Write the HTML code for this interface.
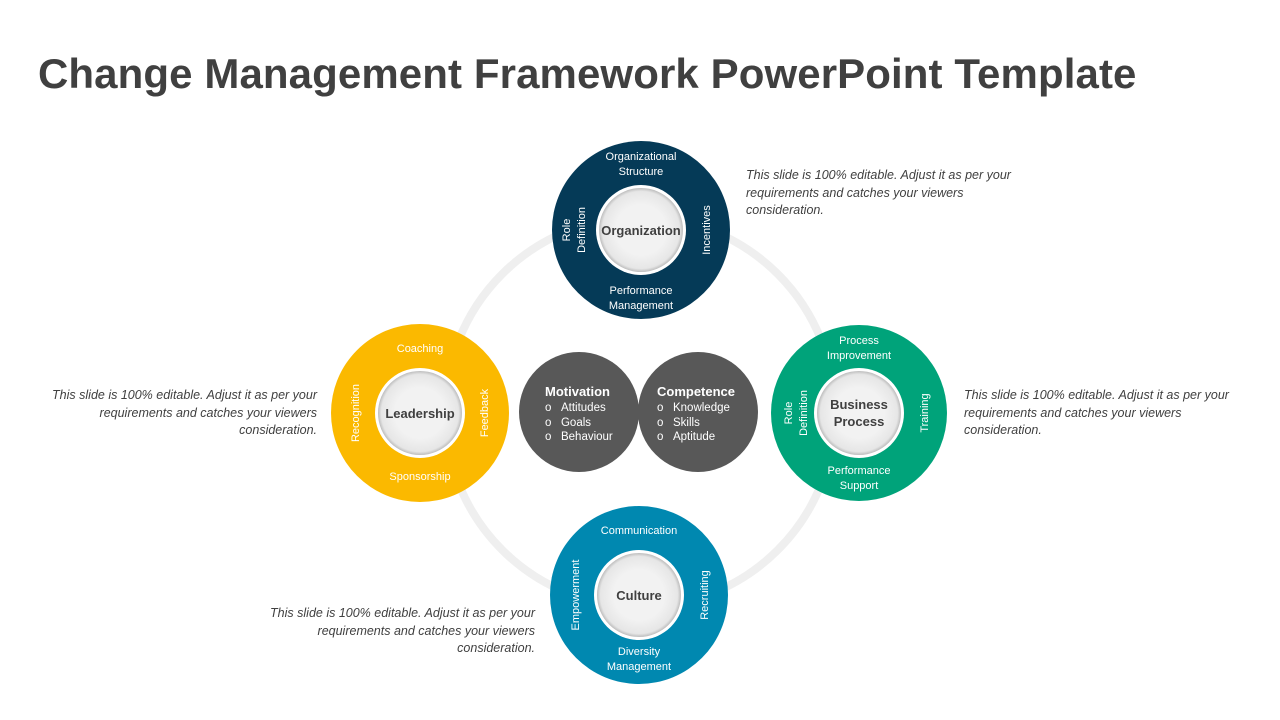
<!DOCTYPE html>
<html><head><meta charset="utf-8"><style>
body{margin:0;width:1280px;height:720px;background:#fff;overflow:hidden;font-family:"Liberation Sans",sans-serif}
h1{position:absolute;left:38px;top:50px;margin:0;font-size:42px;font-weight:bold;color:#404040;letter-spacing:0.1px}
.d{position:absolute;font-size:12.5px;font-style:italic;color:#404040;line-height:17.5px}
</style></head><body>
<h1>Change Management Framework PowerPoint Template</h1>
<div class="d" style="left:746px;top:167px;width:290px">This slide is 100% editable. Adjust it as per your requirements and catches your viewers consideration.</div>
<div class="d" style="left:20px;top:387px;width:297px;text-align:right">This slide is 100% editable. Adjust it as per your requirements and catches your viewers consideration.</div>
<div class="d" style="left:964px;top:387px;width:290px">This slide is 100% editable. Adjust it as per your requirements and catches your viewers consideration.</div>
<div class="d" style="left:238px;top:605px;width:297px;text-align:right">This slide is 100% editable. Adjust it as per your requirements and catches your viewers consideration.</div>
<svg width="1280" height="720" style="position:absolute;left:0;top:0" font-family="Liberation Sans, sans-serif">
<defs>
<radialGradient id="g"><stop offset="0.6" stop-color="#f2f2f2"/><stop offset="0.92" stop-color="#e6e6e6"/><stop offset="1" stop-color="#bdbdbd"/></radialGradient>
</defs>
<circle cx="640" cy="412" r="195" fill="none" stroke="#efefef" stroke-width="8"/>
<circle cx="579" cy="412" r="60" fill="#585858"/>
<circle cx="698" cy="412" r="60" fill="#585858"/>
<g fill="#fff" font-size="11.5">
<text x="545" y="396" font-size="13" font-weight="bold">Motivation</text>
<text x="545" y="411">o&#160;&#160;&#160;Attitudes</text>
<text x="545" y="426">o&#160;&#160;&#160;Goals</text>
<text x="545" y="440">o&#160;&#160;&#160;Behaviour</text>
<text x="657" y="396" font-size="13" font-weight="bold">Competence</text>
<text x="657" y="411">o&#160;&#160;&#160;Knowledge</text>
<text x="657" y="426">o&#160;&#160;&#160;Skills</text>
<text x="657" y="440">o&#160;&#160;&#160;Aptitude</text>
</g>
<circle cx="641" cy="230" r="89" fill="#053a57"/>
<circle cx="641" cy="230" r="45" fill="#fff"/><circle cx="641" cy="230" r="42" fill="url(#g)"/>
<text x="641" y="235" text-anchor="middle" font-size="13" font-weight="bold" fill="#404040">Organization</text>
<g fill="#fff" font-size="11" text-anchor="middle">
<text x="641" y="160">Organizational</text><text x="641" y="175">Structure</text>
<text x="641" y="294">Performance</text><text x="641" y="309">Management</text>
<text transform="translate(570,230) rotate(-90)">Role</text>
<text transform="translate(585,230) rotate(-90)">Definition</text>
<text transform="translate(710,230) rotate(-90)">Incentives</text>
</g>
<circle cx="420" cy="413" r="89" fill="#fbb900"/>
<circle cx="420" cy="413" r="45" fill="#fff"/><circle cx="420" cy="413" r="42" fill="url(#g)"/>
<text x="420" y="418" text-anchor="middle" font-size="13" font-weight="bold" fill="#404040">Leadership</text>
<g fill="#fff" font-size="11" text-anchor="middle">
<text x="420" y="352">Coaching</text>
<text x="420" y="480">Sponsorship</text>
<text transform="translate(359,413) rotate(-90)">Recognition</text>
<text transform="translate(488,413) rotate(-90)">Feedback</text>
</g>
<circle cx="859" cy="413" r="88" fill="#00a37a"/>
<circle cx="859" cy="413" r="45" fill="#fff"/><circle cx="859" cy="413" r="42" fill="url(#g)"/>
<text x="859" y="409" text-anchor="middle" font-size="13" font-weight="bold" fill="#404040">Business</text>
<text x="859" y="426" text-anchor="middle" font-size="13" font-weight="bold" fill="#404040">Process</text>
<g fill="#fff" font-size="11" text-anchor="middle">
<text x="859" y="344">Process</text><text x="859" y="359">Improvement</text>
<text x="859" y="474">Performance</text><text x="859" y="489">Support</text>
<text transform="translate(792,413) rotate(-90)">Role</text>
<text transform="translate(807,413) rotate(-90)">Definition</text>
<text transform="translate(928,413) rotate(-90)">Training</text>
</g>
<circle cx="639" cy="595" r="89" fill="#0088b0"/>
<circle cx="639" cy="595" r="45" fill="#fff"/><circle cx="639" cy="595" r="42" fill="url(#g)"/>
<text x="639" y="600" text-anchor="middle" font-size="13" font-weight="bold" fill="#404040">Culture</text>
<g fill="#fff" font-size="11" text-anchor="middle">
<text x="639" y="534">Communication</text>
<text x="639" y="655">Diversity</text><text x="639" y="670">Management</text>
<text transform="translate(579,595) rotate(-90)">Empowerment</text>
<text transform="translate(708,595) rotate(-90)">Recruiting</text>
</g>
</svg>
</body></html>
